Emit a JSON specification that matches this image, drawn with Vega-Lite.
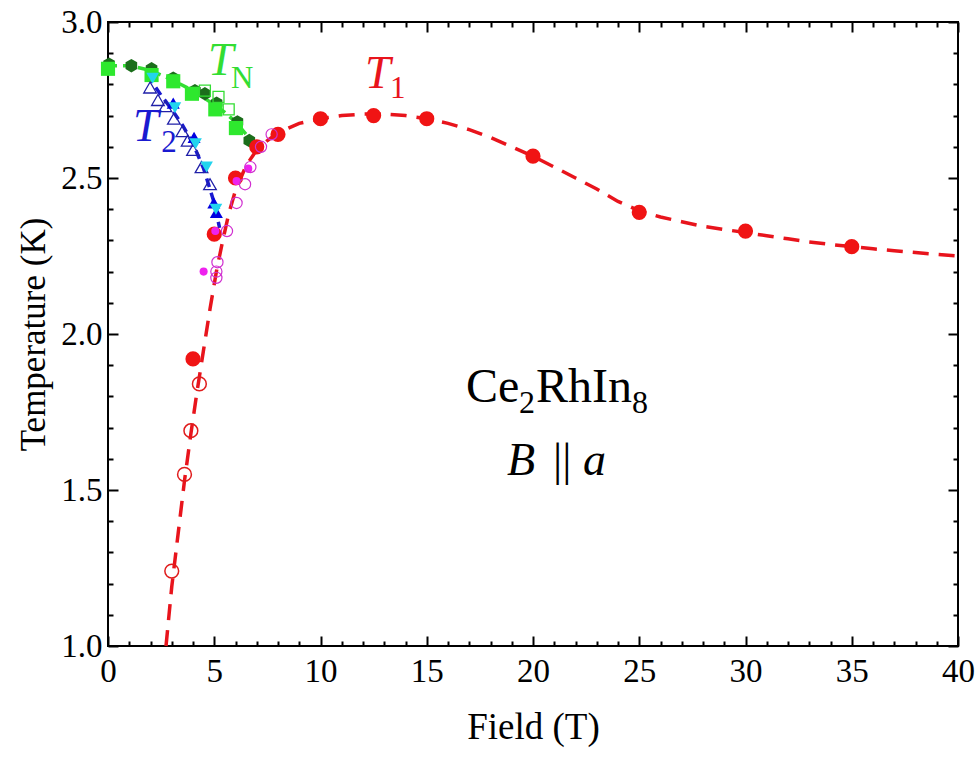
{
  "$schema": "https://vega.github.io/schema/vega-lite/v6.json",
  "width": 850,
  "height": 624,
  "autosize": {"type": "none"},
  "padding": {"left": 108, "top": 22, "right": 22, "bottom": 112},
  "background": "white",
  "config": {"view": {"stroke": "black", "strokeWidth": 2}, "font": "Liberation Serif"},
  "datasets": {
    "pts": [
      {"s": "r1", "f": 4.0, "t": 1.92}, {"s": "r1", "f": 5.0, "t": 2.32}, {"s": "r1", "f": 6.0, "t": 2.5}, {"s": "r1", "f": 7.0, "t": 2.6},
      {"s": "r1", "f": 8.0, "t": 2.64}, {"s": "r1", "f": 10.0, "t": 2.69}, {"s": "r1", "f": 12.5, "t": 2.7}, {"s": "r1", "f": 15.0, "t": 2.69},
      {"s": "r1", "f": 20.0, "t": 2.57}, {"s": "r1", "f": 25.0, "t": 2.39}, {"s": "r1", "f": 30.0, "t": 2.33}, {"s": "r1", "f": 35.0, "t": 2.28},
      {"s": "r2", "f": 3.0, "t": 1.24}, {"s": "r2", "f": 3.6, "t": 1.55}, {"s": "r2", "f": 3.9, "t": 1.69}, {"s": "r2", "f": 4.3, "t": 1.84},
      {"s": "m1", "f": 4.5, "t": 2.2}, {"s": "m1", "f": 5.05, "t": 2.33}, {"s": "m1", "f": 6.05, "t": 2.49}, {"s": "m1", "f": 6.6, "t": 2.53},
      {"s": "m2", "f": 5.15, "t": 2.23}, {"s": "m2", "f": 5.1, "t": 2.2}, {"s": "m2", "f": 5.1, "t": 2.18}, {"s": "m2", "f": 5.6, "t": 2.33},
      {"s": "m2", "f": 6.05, "t": 2.42}, {"s": "m2", "f": 6.45, "t": 2.48}, {"s": "m2", "f": 6.7, "t": 2.535}, {"s": "m2", "f": 7.2, "t": 2.6},
      {"s": "m2", "f": 7.7, "t": 2.64},
      {"s": "g1", "f": 0.05, "t": 2.865}, {"s": "g1", "f": 1.1, "t": 2.86}, {"s": "g1", "f": 2.05, "t": 2.85}, {"s": "g1", "f": 3.07, "t": 2.82},
      {"s": "g1", "f": 4.09, "t": 2.78}, {"s": "g1", "f": 4.56, "t": 2.77}, {"s": "g1", "f": 5.11, "t": 2.74}, {"s": "g1", "f": 6.09, "t": 2.68},
      {"s": "g1", "f": 6.65, "t": 2.62},
      {"s": "g2", "f": 0.0, "t": 2.85}, {"s": "g2", "f": 2.05, "t": 2.83}, {"s": "g2", "f": 3.07, "t": 2.81}, {"s": "g2", "f": 3.95, "t": 2.77},
      {"s": "g2", "f": 5.05, "t": 2.72}, {"s": "g2", "f": 6.02, "t": 2.66},
      {"s": "g3", "f": 4.56, "t": 2.78}, {"s": "g3", "f": 5.2, "t": 2.76}, {"s": "g3", "f": 5.68, "t": 2.72},
      {"s": "b1", "f": 1.98, "t": 2.79}, {"s": "b1", "f": 2.35, "t": 2.75}, {"s": "b1", "f": 2.7, "t": 2.73}, {"s": "b1", "f": 3.1, "t": 2.69},
      {"s": "b1", "f": 3.5, "t": 2.65}, {"s": "b1", "f": 3.75, "t": 2.62}, {"s": "b1", "f": 4.0, "t": 2.59}, {"s": "b1", "f": 4.4, "t": 2.535},
      {"s": "b1", "f": 4.8, "t": 2.48},
      {"s": "b2", "f": 3.07, "t": 2.74}, {"s": "b2", "f": 4.05, "t": 2.63}, {"s": "b2", "f": 4.98, "t": 2.42}, {"s": "b2", "f": 5.1, "t": 2.39},
      {"s": "b3", "f": 2.1, "t": 2.82}, {"s": "b3", "f": 3.15, "t": 2.725}, {"s": "b3", "f": 4.12, "t": 2.61}, {"s": "b3", "f": 4.64, "t": 2.535},
      {"s": "b3", "f": 5.08, "t": 2.4}
    ],
    "fit": [
      {"c": "red", "f": 2.73, "t": 1.0}, {"c": "red", "f": 3.0, "t": 1.19}, {"c": "red", "f": 3.3, "t": 1.36}, {"c": "red", "f": 3.6, "t": 1.53},
      {"c": "red", "f": 3.9, "t": 1.68}, {"c": "red", "f": 4.2, "t": 1.82}, {"c": "red", "f": 4.5, "t": 1.95}, {"c": "red", "f": 4.8, "t": 2.08},
      {"c": "red", "f": 5.1, "t": 2.2}, {"c": "red", "f": 5.4, "t": 2.3}, {"c": "red", "f": 5.7, "t": 2.39}, {"c": "red", "f": 6.0, "t": 2.46},
      {"c": "red", "f": 6.5, "t": 2.54}, {"c": "red", "f": 7.0, "t": 2.59}, {"c": "red", "f": 7.5, "t": 2.62}, {"c": "red", "f": 8.0, "t": 2.645},
      {"c": "red", "f": 9.0, "t": 2.675}, {"c": "red", "f": 10.0, "t": 2.69}, {"c": "red", "f": 11.0, "t": 2.7}, {"c": "red", "f": 12.0, "t": 2.705},
      {"c": "red", "f": 13.0, "t": 2.705}, {"c": "red", "f": 14.0, "t": 2.7}, {"c": "red", "f": 15.0, "t": 2.69}, {"c": "red", "f": 16.0, "t": 2.675},
      {"c": "red", "f": 17.0, "t": 2.655}, {"c": "red", "f": 18.0, "t": 2.63}, {"c": "red", "f": 19.0, "t": 2.6}, {"c": "red", "f": 20.0, "t": 2.57},
      {"c": "red", "f": 21.0, "t": 2.535}, {"c": "red", "f": 22.0, "t": 2.5}, {"c": "red", "f": 23.0, "t": 2.465}, {"c": "red", "f": 24.0, "t": 2.425},
      {"c": "red", "f": 25.0, "t": 2.395}, {"c": "red", "f": 26.0, "t": 2.375}, {"c": "red", "f": 27.0, "t": 2.36}, {"c": "red", "f": 28.0, "t": 2.345},
      {"c": "red", "f": 29.0, "t": 2.335}, {"c": "red", "f": 30.0, "t": 2.325}, {"c": "red", "f": 31.0, "t": 2.315}, {"c": "red", "f": 32.0, "t": 2.305},
      {"c": "red", "f": 33.0, "t": 2.295}, {"c": "red", "f": 34.0, "t": 2.287}, {"c": "red", "f": 35.0, "t": 2.28}, {"c": "red", "f": 36.0, "t": 2.273},
      {"c": "red", "f": 37.0, "t": 2.267}, {"c": "red", "f": 38.0, "t": 2.261}, {"c": "red", "f": 39.0, "t": 2.255}, {"c": "red", "f": 40.0, "t": 2.25},
      {"c": "green", "f": 0.0, "t": 2.86}, {"c": "green", "f": 1.0, "t": 2.86}, {"c": "green", "f": 2.0, "t": 2.845}, {"c": "green", "f": 3.0, "t": 2.815},
      {"c": "green", "f": 4.0, "t": 2.78}, {"c": "green", "f": 5.0, "t": 2.735}, {"c": "green", "f": 5.5, "t": 2.71}, {"c": "green", "f": 6.0, "t": 2.68},
      {"c": "green", "f": 6.5, "t": 2.64}, {"c": "green", "f": 7.0, "t": 2.6},
      {"c": "blue", "f": 1.85, "t": 2.83}, {"c": "blue", "f": 2.5, "t": 2.765}, {"c": "blue", "f": 3.0, "t": 2.72}, {"c": "blue", "f": 3.5, "t": 2.67},
      {"c": "blue", "f": 4.0, "t": 2.61}, {"c": "blue", "f": 4.5, "t": 2.53}, {"c": "blue", "f": 5.0, "t": 2.42}, {"c": "blue", "f": 5.25, "t": 2.34}
    ]
  },
  "layer": [
    {
      "data": {"name": "fit"},
      "transform": [{"filter": "datum.c === 'red'"}],
      "mark": {"type": "line", "color": "#e8141c", "strokeWidth": 3.5, "strokeDash": [16, 10]},
      "encoding": {
        "x": {"field": "f", "type": "quantitative", "scale": {"domain": [0, 40], "nice": false, "zero": false},
          "axis": {"orient": "bottom", "values": [0,1,2,3,4,5,6,7,8,9,10,11,12,13,14,15,16,17,18,19,20,21,22,23,24,25,26,27,28,29,30,31,32,33,34,35,36,37,38,39,40],
            "labelExpr": "datum.value % 5 === 0 ? datum.label : ''", "labelFontSize": 33, "labelFont": "Liberation Serif", "labelColor": "black",
            "labelPadding": 19, "labelOverlap": false, "labelFlush": false, "domain": false, "grid": false,
            "tickColor": "black", "tickWidth": 2,
            "tickSize": {"condition": {"test": "datum.value % 5 === 0", "value": -10}, "value": -5},
            "title": "Field (T)", "titleFontSize": 37, "titleFont": "Liberation Serif", "titleFontWeight": "normal", "titleColor": "black", "titlePadding": 16}},
        "y": {"field": "t", "type": "quantitative", "scale": {"domain": [1, 3], "nice": false, "zero": false},
          "axis": {"orient": "left", "values": [1.0,1.1,1.2,1.3,1.4,1.5,1.6,1.7,1.8,1.9,2.0,2.1,2.2,2.3,2.4,2.5,2.6,2.7,2.8,2.9,3.0],
            "format": ".1f",
            "labelExpr": "abs(datum.value*2 - round(datum.value*2)) < 0.001 ? datum.label : ''", "labelFontSize": 33, "labelFont": "Liberation Serif", "labelColor": "black",
            "labelPadding": 16, "labelOverlap": false, "labelFlush": false, "domain": false, "grid": false,
            "tickColor": "black", "tickWidth": 2,
            "tickSize": {"condition": {"test": "abs(datum.value*2 - round(datum.value*2)) < 0.001", "value": -10}, "value": -5},
            "title": "Temperature (K)", "titleFontSize": 35, "titleFont": "Liberation Serif", "titleFontWeight": "normal", "titleColor": "black", "titlePadding": 9}}
      }
    },
    {
      "data": {"name": "fit"},
      "transform": [{"filter": "datum.c === 'green'"}],
      "mark": {"type": "line", "color": "#33dd33", "strokeWidth": 3.5, "strokeDash": [9, 6]},
      "encoding": {
        "x": {"field": "f", "type": "quantitative",
          "axis": {"orient": "top", "values": [0,1,2,3,4,5,6,7,8,9,10,11,12,13,14,15,16,17,18,19,20,21,22,23,24,25,26,27,28,29,30,31,32,33,34,35,36,37,38,39,40],
            "labels": false, "domain": false, "grid": false, "title": null, "tickColor": "black", "tickWidth": 2,
            "tickSize": {"condition": {"test": "datum.value % 5 === 0", "value": -10}, "value": -5}}},
        "y": {"field": "t", "type": "quantitative",
          "axis": {"orient": "right", "values": [1.0,1.1,1.2,1.3,1.4,1.5,1.6,1.7,1.8,1.9,2.0,2.1,2.2,2.3,2.4,2.5,2.6,2.7,2.8,2.9,3.0],
            "labels": false, "domain": false, "grid": false, "title": null, "tickColor": "black", "tickWidth": 2,
            "tickSize": {"condition": {"test": "abs(datum.value*2 - round(datum.value*2)) < 0.001", "value": -10}, "value": -5}}}
      }
    },
    {
      "data": {"name": "fit"},
      "transform": [{"filter": "datum.c === 'blue'"}],
      "mark": {"type": "line", "color": "#1a1ad0", "strokeWidth": 3.5, "strokeDash": [9, 6]},
      "encoding": {
        "x": {"field": "f", "type": "quantitative", "axis": null},
        "y": {"field": "t", "type": "quantitative", "axis": null}
      }
    },
    {
      "data": {"name": "pts"},
      "transform": [{"filter": "datum.s === 'g1'"}],
      "mark": {"type": "point", "shape": "M0,-1L0.866,-0.5L0.866,0.5L0,1L-0.866,0.5L-0.866,-0.5Z", "filled": true, "color": "#1b6e1b", "opacity": 1, "size": 180},
      "encoding": {"x": {"field": "f", "type": "quantitative", "axis": null}, "y": {"field": "t", "type": "quantitative", "axis": null}}
    },
    {
      "data": {"name": "pts"},
      "transform": [{"filter": "datum.s === 'g2'"}],
      "mark": {"type": "point", "shape": "square", "filled": true, "color": "#2ee82e", "opacity": 1, "size": 200},
      "encoding": {"x": {"field": "f", "type": "quantitative", "axis": null}, "y": {"field": "t", "type": "quantitative", "axis": null}}
    },
    {
      "data": {"name": "pts"},
      "transform": [{"filter": "datum.s === 'g3'"}],
      "mark": {"type": "point", "shape": "square", "filled": false, "color": "#33dd33", "opacity": 1, "strokeWidth": 1.3, "size": 120},
      "encoding": {"x": {"field": "f", "type": "quantitative", "axis": null}, "y": {"field": "t", "type": "quantitative", "axis": null}}
    },
    {
      "data": {"name": "pts"},
      "transform": [{"filter": "datum.s === 'b1'"}],
      "mark": {"type": "point", "shape": "triangle-up", "filled": false, "color": "#2020a8", "opacity": 1, "strokeWidth": 1.3, "size": 160},
      "encoding": {"x": {"field": "f", "type": "quantitative", "axis": null}, "y": {"field": "t", "type": "quantitative", "axis": null}}
    },
    {
      "data": {"name": "pts"},
      "transform": [{"filter": "datum.s === 'b2'"}],
      "mark": {"type": "point", "shape": "triangle-up", "filled": true, "color": "#0000e0", "opacity": 1, "size": 170},
      "encoding": {"x": {"field": "f", "type": "quantitative", "axis": null}, "y": {"field": "t", "type": "quantitative", "axis": null}}
    },
    {
      "data": {"name": "pts"},
      "transform": [{"filter": "datum.s === 'b3'"}],
      "mark": {"type": "point", "shape": "triangle-down", "filled": true, "color": "#22d4ee", "opacity": 1, "size": 160},
      "encoding": {"x": {"field": "f", "type": "quantitative", "axis": null}, "y": {"field": "t", "type": "quantitative", "axis": null}}
    },
    {
      "data": {"name": "pts"},
      "transform": [{"filter": "datum.s === 'r1'"}],
      "mark": {"type": "point", "shape": "circle", "filled": true, "color": "#f01414", "opacity": 1, "size": 230},
      "encoding": {"x": {"field": "f", "type": "quantitative", "axis": null}, "y": {"field": "t", "type": "quantitative", "axis": null}}
    },
    {
      "data": {"name": "pts"},
      "transform": [{"filter": "datum.s === 'r2'"}],
      "mark": {"type": "point", "shape": "circle", "filled": false, "color": "#e01c1c", "opacity": 1, "strokeWidth": 1.5, "size": 190},
      "encoding": {"x": {"field": "f", "type": "quantitative", "axis": null}, "y": {"field": "t", "type": "quantitative", "axis": null}}
    },
    {
      "data": {"name": "pts"},
      "transform": [{"filter": "datum.s === 'm1'"}],
      "mark": {"type": "point", "shape": "circle", "filled": true, "color": "#ee22ee", "opacity": 1, "size": 65},
      "encoding": {"x": {"field": "f", "type": "quantitative", "axis": null}, "y": {"field": "t", "type": "quantitative", "axis": null}}
    },
    {
      "data": {"name": "pts"},
      "transform": [{"filter": "datum.s === 'm2'"}],
      "mark": {"type": "point", "shape": "circle", "filled": false, "color": "#d030d0", "opacity": 1, "strokeWidth": 1.2, "size": 125},
      "encoding": {"x": {"field": "f", "type": "quantitative", "axis": null}, "y": {"field": "t", "type": "quantitative", "axis": null}}
    },
    {
      "data": {"values": [{"k": "N", "f": 4.71, "t": 2.83}, {"k": "1", "f": 12.09, "t": 2.79}, {"k": "2", "f": 1.18, "t": 2.62}]},
      "mark": {"type": "text", "text": "T", "font": "Liberation Serif", "fontStyle": "italic", "fontSize": 46, "align": "left", "baseline": "alphabetic"},
      "encoding": {
        "x": {"field": "f", "type": "quantitative", "axis": null}, "y": {"field": "t", "type": "quantitative", "axis": null},
        "color": {"field": "k", "type": "nominal", "scale": {"domain": ["N", "1", "2"], "range": ["#33dd33", "#e8141c", "#1a1ad0"]}, "legend": null}
      }
    },
    {
      "data": {"values": [{"k": "N", "f": 5.79, "t": 2.79}, {"k": "1", "f": 13.27, "t": 2.756}, {"k": "2", "f": 2.5, "t": 2.583}]},
      "mark": {"type": "text", "font": "Liberation Serif", "fontSize": 31, "align": "left", "baseline": "alphabetic"},
      "encoding": {
        "x": {"field": "f", "type": "quantitative", "axis": null}, "y": {"field": "t", "type": "quantitative", "axis": null},
        "text": {"field": "k"},
        "color": {"field": "k", "type": "nominal", "legend": null}
      }
    },
    {
      "data": {"values": [{"f": 16.85, "t": 1.782, "s": "Ce"}, {"f": 20.14, "t": 1.782, "s": "RhIn"}]},
      "mark": {"type": "text", "font": "Liberation Serif", "fontSize": 48, "align": "left", "baseline": "alphabetic", "color": "black"},
      "encoding": {"x": {"field": "f", "type": "quantitative", "axis": null}, "y": {"field": "t", "type": "quantitative", "axis": null}, "text": {"field": "s"}}
    },
    {
      "data": {"values": [{"f": 19.34, "t": 1.747, "s": "2"}, {"f": 24.66, "t": 1.747, "s": "8"}]},
      "mark": {"type": "text", "font": "Liberation Serif", "fontSize": 32, "align": "left", "baseline": "alphabetic", "color": "black"},
      "encoding": {"x": {"field": "f", "type": "quantitative", "axis": null}, "y": {"field": "t", "type": "quantitative", "axis": null}, "text": {"field": "s"}}
    },
    {
      "data": {"values": [{"f": 18.78, "t": 1.548, "s": "B"}, {"f": 22.35, "t": 1.548, "s": "a"}]},
      "mark": {"type": "text", "font": "Liberation Serif", "fontStyle": "italic", "fontSize": 46, "align": "left", "baseline": "alphabetic", "color": "black"},
      "encoding": {"x": {"field": "f", "type": "quantitative", "axis": null}, "y": {"field": "t", "type": "quantitative", "axis": null}, "text": {"field": "s"}}
    },
    {
      "data": {"values": [{"f": 20.94, "t": 1.548, "s": "||"}]},
      "mark": {"type": "text", "font": "Liberation Serif", "fontSize": 46, "align": "left", "baseline": "alphabetic", "color": "black"},
      "encoding": {"x": {"field": "f", "type": "quantitative", "axis": null}, "y": {"field": "t", "type": "quantitative", "axis": null}, "text": {"field": "s"}}
    }
  ],
  "resolve": {"axis": {"x": "independent", "y": "independent"}}
}
